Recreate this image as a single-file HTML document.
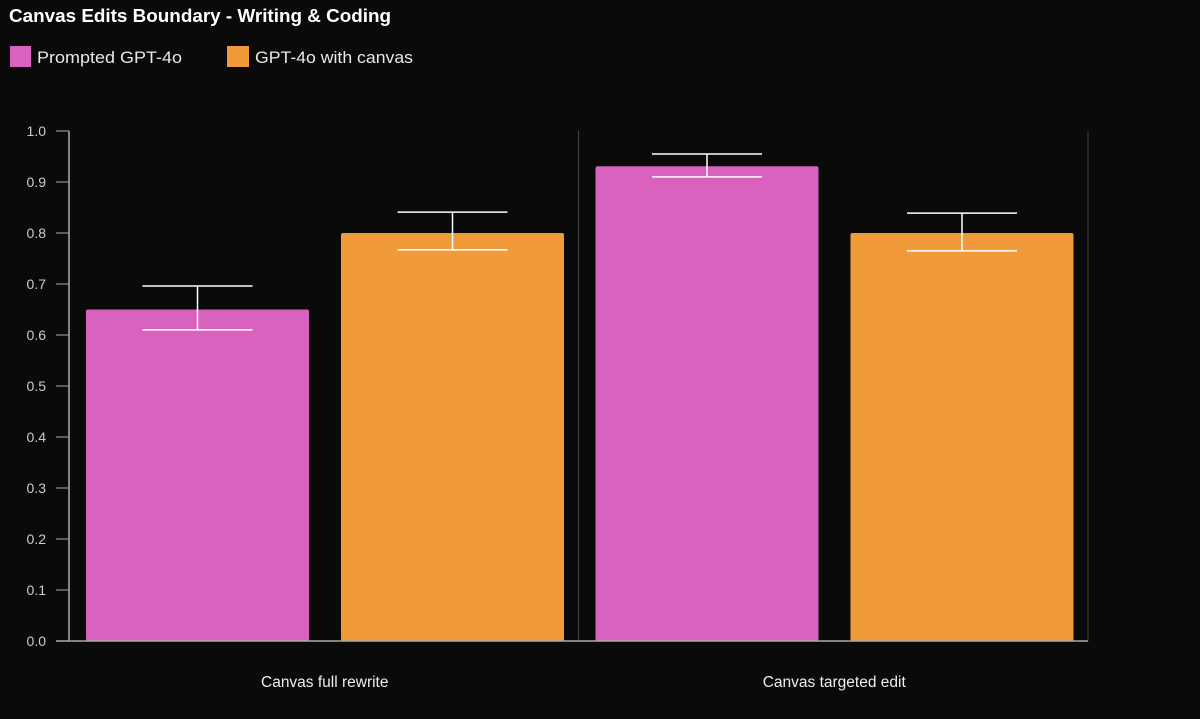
<!DOCTYPE html>
<html><head><meta charset="utf-8"><style>
body{margin:0;background:#0a0a0a;width:1200px;height:714px;overflow:hidden;font-family:"Liberation Sans",sans-serif}
</style></head><body>
<svg id="c" width="1200" height="714" xmlns="http://www.w3.org/2000/svg">
<text x="9" y="22" fill="#fff" font-size="18" font-weight="bold" textLength="382" lengthAdjust="spacingAndGlyphs">Canvas Edits Boundary - Writing &amp; Coding</text>
<g>
<rect x="10" y="46" width="21" height="21" fill="#d962be"/>
<text x="37" y="63" fill="#e8e8e8" font-size="17" textLength="145" lengthAdjust="spacingAndGlyphs">Prompted GPT-4o</text>
<rect x="227" y="46" width="22" height="21" fill="#f09a39"/>
<text x="255" y="63" fill="#e8e8e8" font-size="17" textLength="158" lengthAdjust="spacingAndGlyphs">GPT-4o with canvas</text>
</g>
<g id="plot"></g>
</svg>
<script>
const categories=["Canvas full rewrite","Canvas targeted edit"];
const prompted=[0.65,0.931];
const promptedLo=[0.61,0.91];
const promptedHi=[0.696,0.955];
const canvasVals=[0.80,0.80];
const canvasLo=[0.767,0.765];
const canvasHi=[0.841,0.839];
const ticks=[0,0.1,0.2,0.3,0.4,0.5,0.6,0.7,0.8,0.9,1.0];
const tickLabels=["0.0","0.1","0.2","0.3","0.4","0.5","0.6","0.7","0.8","0.9","1.0"];

const NS="http://www.w3.org/2000/svg";
const g=document.getElementById('plot');
const X0=69,X1=1088,Y0=641,Y1=131;
const y=v=>Y0-(Y0-Y1)*v;
const groupW=(X1-X0)/categories.length;
function mk(t,a){const e=document.createElementNS(NS,t);for(const k in a)e.setAttribute(k,a[k]);g.appendChild(e);return e;}
ticks.forEach((t,i)=>{
  const l=mk('line',{x1:56,x2:X0,y1:y(t),y2:y(t),stroke:'#aaa','stroke-width':1});
  
  
  const tx=mk('text',{x:46,y:y(t)+5,fill:'#ccc','font-size':14,'text-anchor':'end'});
  tx.textContent=tickLabels[i];
  
  
});
const ax=mk('line',{x1:X0,x2:X0,y1:Y1,y2:Y0,stroke:'#aaa','stroke-width':1.5});


for(let i=1;i<=categories.length;i++){
  const d=mk('line',{x1:X0+groupW*i,x2:X0+groupW*i,y1:Y1,y2:Y0,stroke:'#444','stroke-width':1});
  
  
}
const series=[[prompted,promptedLo,promptedHi,'#d962be','prompted'],[canvasVals,canvasLo,canvasHi,'#f09a39','canvas']];
categories.forEach((c,i)=>{
  const gx=X0+groupW*i;
  series.forEach((s,j)=>{
    const bx=gx+17+j*255, bw=223, v=s[0][i];
    const r=mk('rect',{x:bx,y:y(v),width:bw,height:Y0-y(v),fill:s[3],rx:2});
    
    
    const cx=bx+bw/2;
    const e=mk('path',{d:`M${cx-55},${y(s[2][i])}H${cx+55}M${cx},${y(s[2][i])}V${y(s[1][i])}M${cx-55},${y(s[1][i])}H${cx+55}`,stroke:'#fff','stroke-width':1.5,fill:'none'});
    
    
  });
  const t=mk('text',{x:gx+groupW/2+1,y:687,fill:'#eee','font-size':15.5,'text-anchor':'middle'});
  t.textContent=c;
  
  
});
const bx=mk('line',{x1:56,x2:X1,y1:Y0,y2:Y0,stroke:'#aaa','stroke-width':1.5});


</script>
</body></html>
